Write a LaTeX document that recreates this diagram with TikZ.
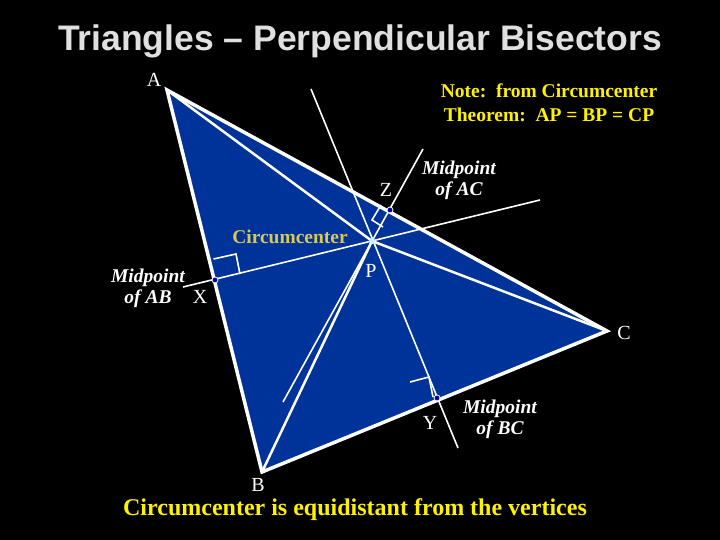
\documentclass[tikz,border=0pt]{standalone}
\usepackage{fontspec}
\setmainfont{Liberation Serif}
\newfontfamily\titlefont{Liberation Sans}
\begin{document}
\begin{tikzpicture}[x=1pt,y=-1pt,
  edge/.style={white,line width=3.5pt,line join=miter},
  thin/.style={white,line width=1.6pt},
  med/.style={white,line width=2.5pt},
  lab/.style={white,font=\fontsize{20}{22}\selectfont,inner sep=1pt},
  mid/.style={white,font=\fontsize{19.5}{21}\selectfont\bfseries\itshape,align=center,inner sep=1pt},
  dot/.style={circle,draw=white,fill=blue!60!black,inner sep=0pt,minimum size=6pt,line width=0.8pt},
  yel/.style={font=\fontsize{19.5}{24}\selectfont\bfseries,align=center}]
\fill[black] (0,0) rectangle (720,540);
\useasboundingbox (0,0) rectangle (720,540);
\coordinate (A) at (167,90);
\coordinate (B) at (262,472);
\coordinate (C) at (607,331);
\coordinate (P) at (372,241);
\fill[fill={rgb,255:red,0;green,51;blue,153}] (A)--(B)--(C)--cycle;
% vertex-to-P lines
\draw[med] (A)--(P);
\draw[med] (C)--(P);
\draw[med] (B)--(P);
% perpendicular bisectors
\coordinate (X) at (215,280);
\coordinate (Y) at (437,398);
\coordinate (Z) at (390,210);
\coordinate (x1) at (183,287); \coordinate (x2) at (540,200);
\coordinate (y1) at (311,89); \coordinate (y2) at (458,448);
\coordinate (z1) at (423,149); \coordinate (z2) at (283,402);
\draw[thin] (x1)--(x2);
\draw[thin] (y1)--(y2);
\draw[thin] (z1)--(z2);
\draw[edge] (A)--(B)--(C)--cycle;
% right angle marks
\draw[thin] (213.5,259) -- (236,254) -- (240,274);
\draw[thin] (410,382) -- (429,377) -- (433,397);
\draw[thin] (381,205) -- (372,220) -- (383,227);
\node[dot] (dX) at (X) {};
\node[dot] (dY) at (Y) {};
\node[dot] (dZ) at (Z) {};
\node[circle,fill=cyan!20,inner sep=0pt,minimum size=6pt] (dP) at (P) {};
% labels
\node[white!88!black,font=\titlefont\bfseries\fontsize{35.5}{38}\selectfont] (t) at (360,41) {Triangles \textendash\ Perpendicular Bisectors};
\node[lab] (lA) at (154,80) {A};
\node[lab] (lB) at (258,485) {B};
\node[lab] (lC) at (624,333) {C};
\node[lab] (lP) at (371,271) {P};
\node[lab] (lX) at (200,297) {X};
\node[lab] (lY) at (430,423) {Y};
\node[lab] (lZ) at (386,190) {Z};
\node[mid] (mAC) at (459,180) {Midpoint\\of AC};
\node[mid] (mAB) at (148,288) {Midpoint\\of AB};
\node[mid] (mBC) at (500,419) {Midpoint\\of BC};
\node[yel,text={rgb,255:red,218;green,200;blue,80},font=\fontsize{19.5}{22}\selectfont\bfseries] (cc) at (290,237) {Circumcenter};
\node[yel,text=yellow] (note) at (549,103) {Note:\ \ from Circumcenter\\Theorem:\ \ AP = BP = CP};
\node[text=yellow,font=\fontsize{24}{26}\selectfont\bfseries,inner sep=1pt] (bt) at (355,510) {Circumcenter is equidistant from the vertices};
\end{tikzpicture}
\end{document}
